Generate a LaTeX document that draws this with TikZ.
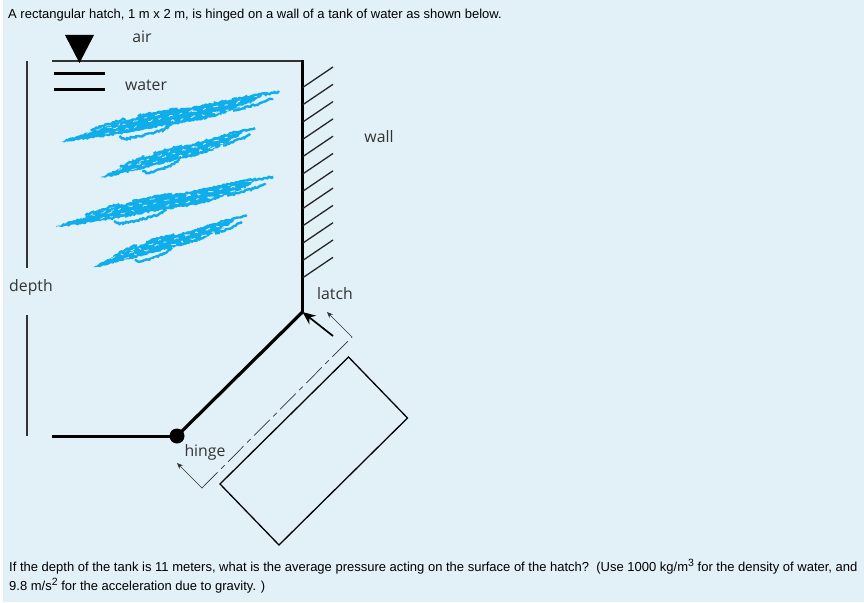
\documentclass[tikz,border=0pt]{standalone}
\usepackage{fontspec}
\setmainfont{Liberation Sans}
\newfontfamily\labelfont{Open Sans}
\usepackage{tikz}
\usetikzlibrary{positioning,arrows.meta,decorations.pathmorphing}
\definecolor{tankbg}{HTML}{E2F0F8}
\definecolor{watercol}{HTML}{0FAEEA}
\definecolor{inkcol}{HTML}{333333}
\newcommand{\probsup}[1]{\raisebox{4.5pt}{\fontsize{10.5}{12}\selectfont #1}}
\tikzset{
  difftext/.style={inner sep=0pt, anchor=base, font=\labelfont\fontsize{15.8}{16}\selectfont, text=inkcol},
  probtext/.style={inner sep=0pt, anchor=base west, font=\fontsize{13}{15}\selectfont, text=black},
  hatchline/.style={draw=black!85, line width=1.3pt},
  rough/.style={decorate, decoration={random steps, segment length=1.6pt, amplitude=0.9pt}},
  speck/.style={tankbg, rough, dash pattern=on 5pt off 7pt on 3pt off 9pt},
  wisp/.style={watercol, rough, line width=2.4pt},
}

\begin{document}
\begin{tikzpicture}[x=1pt, y=-1pt]
    \pgfmathsetseed{23}
    \useasboundingbox (0,0) rectangle (864,602);
    \fill[white] (0,0) rectangle (864,602);
    \fill[tankbg] (3,0) rectangle (864,602);

    % water scribbles
    \foreach \sx/\sy/\srot/\slen/\sh in {61/142/12.6/2.24/1, 100/178/17.5/1.63/0.85, 56/227/12.7/2.23/1, 93/267/18/1.62/0.85} {
      \begin{scope}[shift={(\sx,\sy)}, rotate=\srot, xscale=\slen, yscale=\sh]
        \fill[watercol, rough] (0,0) -- (5,-2) -- (12,-3.5) -- (28,-7) -- (46,-8) -- (68,-4) -- (84,-2.5) -- (92,-1.5)
          -- (88,2.5) -- (78,6) -- (70,9) -- (58,8.5) -- (46,6.5) -- (26,5) -- (10.6,2.5) -- (3,1.5) -- cycle;
        \draw[wisp] (14,-5) -- (30,-8.5);
        \draw[wisp] (36,-8.5) -- (54,-7);
        \draw[wisp] (62,-4) -- (88,-3.5) -- (100,-1);
        \draw[wisp] (78,7) -- (90,6) -- (96,3.5);
        \draw[wisp] (26,7) -- (28,11) -- (37,11.5) -- (46,10.5) -- (50,7);
        \draw[tankbg, line width=1.6pt, rough] (33,8.5) -- (41,8);
        \draw[speck, line width=0.6pt] (12,-2.5) -- (30,-5);
        \draw[speck, line width=0.7pt] (24,-2) -- (46,-6);
        \draw[speck, line width=0.7pt] (40,-1) -- (62,-2);
        \draw[speck, line width=0.9pt] (60,-1) -- (84,0);
        \draw[speck, line width=0.8pt] (50,3.5) -- (72,5);
        \draw[speck, line width=0.9pt] (70,6) -- (86,3);
        \draw[speck, line width=0.6pt] (20,2) -- (38,1);
      \end{scope}
    }

    % tank outline
    \coordinate (surfL) at (52,61);
    \coordinate (corner) at (302.5,61);
    \coordinate (latch) at (302.5,312);
    \coordinate (hinge) at (177,436);
    \coordinate (floorL) at (52,436);
    \draw[draw=inkcol, line width=1.6pt] (surfL) -- (corner);
    \draw[line width=3.2pt] (302.5,60) -- (latch);
    \draw[line width=3.2pt, line cap=round] (latch) -- (hinge);
    \draw[line width=3pt] (floorL) -- (hinge);
    \node[circle, fill=black, inner sep=0pt, minimum size=15pt] (hingedot) at (hinge) {};

    % wall hatching
    \foreach \i in {0,...,11} {
      \draw[hatchline] (303,87.3+17.3*\i) -- (333,67+17.3*\i);
    }

    % free surface mark
    \fill[black] (65,35) -- (94,35) -- (79.5,63) -- cycle;
    \coordinate (markAL) at (54,73);
    \coordinate (markAR) at (105,73);
    \coordinate (markBL) at (54,89);
    \coordinate (markBR) at (105,89);
    \draw[line width=3pt] (markAL) -- (markAR);
    \draw[line width=3pt] (markBL) -- (markBR);

    % depth
    \node[difftext] (depth) at (31,291) {depth};
    \coordinate (depthT) at (27,61);
    \coordinate (depthB) at (27,436);
    \draw[draw=inkcol, line width=1.4pt] (depthT) -- (27,268);
    \draw[draw=inkcol, line width=1.4pt] (27,315) -- (depthB);

    % hatch
    \coordinate (hatchA) at (220,484);
    \coordinate (hatchB) at (348.5,357);
    \coordinate (hatchC) at (407.5,418);
    \coordinate (hatchD) at (279,545);
    \draw[line width=1.3pt, line join=miter] (hatchA) -- (hatchB) -- (hatchC) -- (hatchD) -- cycle;

    % section line
    \coordinate (cutT) at (352,337);
    \coordinate (cutB) at (202,488);
    \coordinate (cutTend) at (327,312);
    \coordinate (cutBend) at (177,463);
    \draw[draw=inkcol, line width=0.7pt, dash pattern=on 22pt off 5pt on 5pt off 5pt] (cutB) -- (cutT);
    \draw[draw=inkcol, line width=0.7pt, -{Stealth[length=6pt,width=5pt]}] (cutT) -- (cutTend);
    \draw[draw=inkcol, line width=0.7pt, -{Stealth[length=6pt,width=5pt]}] (cutB) -- (cutBend);
    \coordinate (forcetail) at (333,336);
    \draw[line width=1.7pt, -{Stealth[length=13pt,width=11pt]}] (forcetail) -- (latch);

    % labels
    \node[difftext] (air) at (142,43) {air};
    \node[difftext] (water) at (146,90) {water};
    \node[difftext] (wall) at (379,142) {wall};
    \node[difftext] (latchtext) at (335,299) {latch};
    \node[difftext] (hingetext) at (205,456) {hinge};

    % question text
    \node[probtext] (intro) at (8,19) {A rectangular hatch, 1 m x 2 m, is hinged on a wall of a tank of water as shown below.};
    \node[probtext] (ask) at (9,571) {If the depth of the tank is 11 meters, what is the average pressure acting on the surface of the hatch?\ \ (Use 1000 kg/m\probsup{3} for the density of water, and};
    \node[probtext] (askb) at (9,590) {9.8 m/s\probsup{2} for the acceleration due to gravity. )};
  \end{tikzpicture}
\end{document}
